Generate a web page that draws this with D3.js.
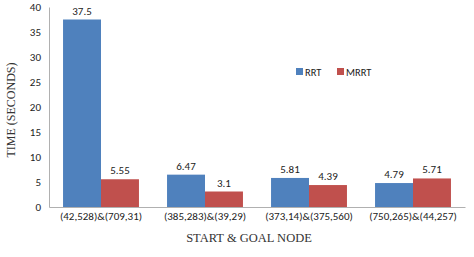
<!DOCTYPE html>
<html><head><meta charset="utf-8">
<script src="https://cdn.jsdelivr.net/npm/d3@7"></script>
<style>body{margin:0;background:#fff}</style>
</head><body><svg id="c" width="474" height="257"></svg>
<script>
const categories = ["(42,528)&(709,31)", "(385,283)&(39,29)", "(373,14)&(375,560)", "(750,265)&(44,257)"];
const seriesNames = ["RRT", "MRRT"];
const rrt = [37.5, 6.47, 5.81, 4.79];
const mrrt = [5.55, 3.1, 4.39, 5.71];
const rrtLabels = ["37.5", "6.47", "5.81", "4.79"];
const mrrtLabels = ["5.55", "3.1", "4.39", "5.71"];
const yTicks = [0, 5, 10, 15, 20, 25, 30, 35, 40];
const colors = ["#4F81BD", "#C0504D"];

(function () {
const svg = d3.select("#c");
const mLeft = 49, mRight = 465, mTop = 7, mBottom = 207;
const x = d3.scaleBand().domain(categories).range([mLeft, mRight]).paddingInner(0).paddingOuter(0);
const x1 = d3.scaleBand().domain(seriesNames).range([0, x.bandwidth()]).paddingOuter(0.37).paddingInner(0);
const y = d3.scaleLinear().domain([0, 40]).range([mBottom, mTop]);
const font = "Calibri, Carlito, 'Open Sans', Arial, sans-serif";
const serif = "'Liberation Serif', 'Times New Roman', serif";

const data = categories.map((c, i) => ({c, vals: [
  {s: "RRT", v: rrt[i], l: rrtLabels[i]},
  {s: "MRRT", v: mrrt[i], l: mrrtLabels[i]}]}));

const g = svg.selectAll("g.grp").data(data).enter().append("g")
  .attr("transform", d => `translate(${x(d.c)},0)`);
g.selectAll("rect").data(d => d.vals).enter().append("rect")
  .attr("x", d => x1(d.s)).attr("width", x1.bandwidth())
  .attr("y", d => y(d.v)).attr("height", d => y(0) - y(d.v))
  .attr("fill", (d, i) => colors[i]);
g.selectAll("text").data(d => d.vals).enter().append("text")
  .attr("x", d => x1(d.s) + x1.bandwidth() / 2)
  .attr("y", d => y(d.v) - 5)
  .attr("text-anchor", "middle").attr("font-family", font).attr("font-size", 11)
  .attr("fill", "#222").text(d => d.l);

const yAxis = svg.append("g").attr("transform", `translate(${mLeft},0)`)
  .call(d3.axisLeft(y).tickValues(yTicks).tickSize(0).tickPadding(8));
yAxis.select(".domain").attr("stroke", "#b0b0b0");
yAxis.selectAll("text").attr("font-family", font).attr("font-size", 11).attr("fill", "#222");

const xAxis = svg.append("g").attr("transform", `translate(0,${mBottom})`)
  .call(d3.axisBottom(x).tickSize(0).tickPadding(5));
xAxis.select(".domain").attr("stroke", "#b0b0b0");
xAxis.selectAll("text").attr("font-family", font).attr("font-size", 11).attr("fill", "#222");

svg.append("text").attr("transform", "translate(15,110) rotate(-90)")
  .attr("text-anchor", "middle").attr("font-family", serif)
  .attr("font-size", 12).attr("fill", "#333").text("TIME (SECONDS)");
svg.append("text").attr("x", 249).attr("y", 242)
  .attr("text-anchor", "middle").attr("font-family", serif)
  .attr("font-size", 12.5).attr("fill", "#333").text("START & GOAL NODE");

const leg = svg.append("g").attr("transform", "translate(296,68)");
seriesNames.forEach((s, i) => {
  const lg = leg.append("g").attr("transform", `translate(${i * 41},0)`);
  lg.append("rect").attr("width", 7).attr("height", 7).attr("fill", colors[i]);
  lg.append("text").attr("x", 9).attr("y", 7.5).attr("font-family", font)
    .attr("font-size", 10.5).attr("fill", "#222").text(s);
});
})();
</script></body></html>
